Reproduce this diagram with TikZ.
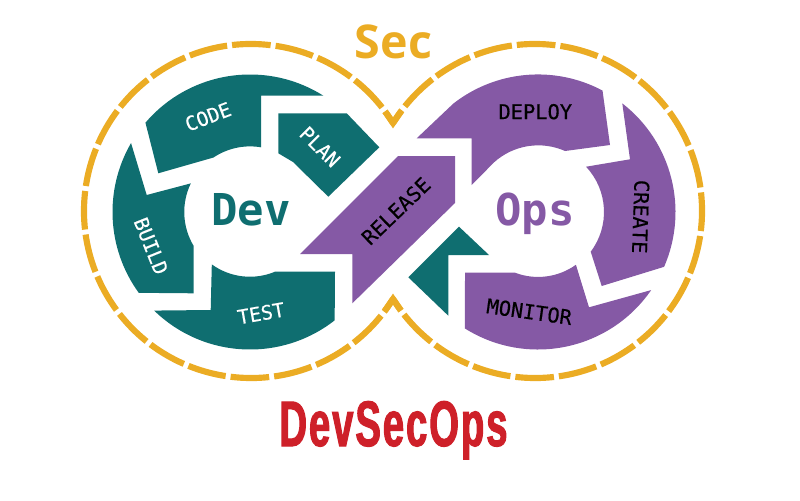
\documentclass[tikz,border=0pt]{standalone}
\usepackage{fontspec}
\newfontfamily\labelfont[FakeBold=0.4]{DejaVu Sans Mono}
\newfontfamily\hubfont{DejaVu Sans Mono}
\newfontfamily\secfont{Open Sans}
\newfontfamily\bannerfont[FakeStretch=0.595,FakeBold=1.6,LetterSpace=3]{Liberation Sans Bold}
\definecolor{devteal}{HTML}{0F6E70}
\definecolor{opspurple}{HTML}{8559A5}
\definecolor{secgold}{HTML}{EBAC24}
\definecolor{bannerred}{HTML}{CE2029}
\tikzset{
  ringline/.style={draw=secgold,line width=3.5pt,dash pattern=on 22pt off 2.85pt,dash phase=14.05pt},
  ringtip/.style={draw=secgold,line width=3.5pt},
  devpart/.style={fill=devteal},
  opspart/.style={fill=opspurple},
  devtag/.style={text=white,font=\labelfont\fontsize{11.2}{11}\selectfont},
  opstag/.style={text=black,font=\labelfont\fontsize{11.6}{11}\selectfont},
  hubtag/.style={anchor=base,font=\hubfont\bfseries\fontsize{25}{25}\selectfont},
}
\begin{document}
\begin{tikzpicture}[x=.02cm,y=-.02cm]
  \useasboundingbox (0,0) rectangle (800,500);
  \coordinate (devc) at (250,212);
  \coordinate (opsc) at (538,212);
  \coordinate (ringl) at (251,211);
  \coordinate (ringr) at (535,211);
  % dashed ring
  \draw[ringline] (ringl)+(-31.8:167) arc[start angle=-31.8,end angle=-328.2,radius=167];
  \draw[ringline] (ringr)+(148.2:167) arc[start angle=148.2,end angle=-148.2,radius=167];
  \draw[ringtip] (385,111.4) -- (393,123) -- (401,111.4);
  \draw[ringtip] (385,310.6) -- (393,299) -- (401,310.6);
  % dev side
  \fill[devpart] (devc)+(220.5:137.5) arc[start angle=220.5,end angle=302.2,radius=137.5]
    -- (261,95.7) -- (261,147.3)
    arc[start angle=279.6,end angle=236.1,radius=65.6] -- (158.3,173.3) -- cycle;
  \fill[devpart] (278.3,113.3) -- (346.7,113.3) -- (379.3,147.3) -- (328.3,196.7) -- (293,162) -- (278.3,153.3) -- cycle;
  \fill[devpart] (devc)+(210.1:137.5) arc[start angle=210.1,end angle=144,radius=137.5]
    -- (193.7,293.3) -- (193.7,246)
    arc[start angle=148.9,end angle=205.8,radius=65.8] -- (146.7,195) -- cycle;
  \fill[devpart] (devc)+(134.2:137.5) arc[start angle=134.2,end angle=52,radius=137.5]
    -- (335,271.7) -- (275,271.7)
    arc[start angle=67.3,end angle=125.9,radius=65] -- (210.7,310) -- cycle;
  % ops side
  \fill[opspart] (416.7,138.3) -- (453.3,103.6) arc[start angle=232,end angle=298,radius=137.5]
    -- (610,145) -- (565,151)
    arc[start angle=293.9,end angle=228,radius=66] -- (471.7,185) -- (471.7,138.3) -- cycle;
  \fill[opspart] (opsc)+(-52.2:137.5) arc[start angle=-52.2,end angle=23.5,radius=137.5]
    -- (601.7,286) -- (590.7,251.7)
    arc[start angle=37,end angle=-43.3,radius=66] -- (630,159.3) -- cycle;
  \fill[opspart] (opsc)+(34.6:137.5) arc[start angle=34.6,end angle=122.1,radius=137.5]
    -- (465,272.7) -- (515,272.7)
    arc[start angle=110.8,end angle=54.4,radius=65] -- (589,307.3) -- cycle;
  % middle arrows
  \fill[opspart] (300,254) -- (398,156) -- (455,156) -- (455,203) -- (352.3,303.3) -- (352.3,254) -- cycle;
  \fill[devpart] (459,226.7) -- (489,255) -- (448.3,255) -- (448.3,315.7) -- (408.3,277.3) -- cycle;
  % labels
  \node[devtag,rotate=21] (code) at (208,116.7) {CODE};
  \node[devtag,rotate=-45] (plan) at (320,146.7) {PLAN};
  \node[devtag,rotate=-68] (build) at (151,246) {BUILD};
  \node[devtag,rotate=10] (test) at (261,313.3) {TEST};
  \node[opstag,rotate=44] (release) at (396,211) {RELEASE};
  \node[opstag] (deploy) at (535.3,111.7) {DEPLOY};
  \node[opstag,rotate=-92] (create) at (640.7,216.7) {CREATE};
  \node[opstag,rotate=-8] (monitor) at (529.3,311.7) {MONITOR};
  \node[hubtag,text=devteal] (dev) at (251,225) {Dev};
  \node[hubtag,text=opspurple] (ops) at (535,225) {Ops};
  \node[anchor=base,text=secgold,font=\secfont\bfseries\fontsize{26.5}{26.5}\selectfont] (sec) at (393.5,59) {Sec};
  \node[anchor=base,text=bannerred,font=\bannerfont\fontsize{36.6}{36.6}\selectfont] (banner) at (393.5,446) {DevSecOps};
\end{tikzpicture}
\end{document}
